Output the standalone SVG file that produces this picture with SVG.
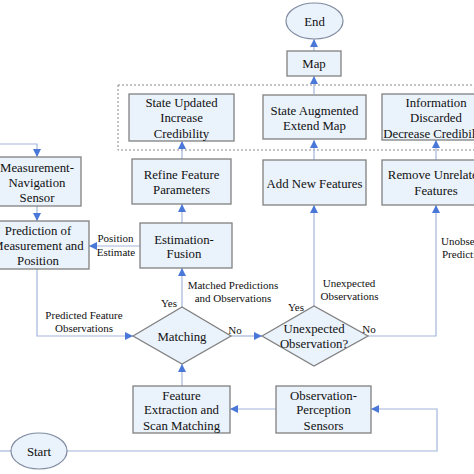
<svg xmlns="http://www.w3.org/2000/svg" width="474" height="474" viewBox="0 0 474 474">
<style>
.box{fill:#eaf2fb;stroke:#808080;stroke-width:1.3}
.ell{fill:#eaf2fb;stroke:#7f8ba0;stroke-width:1.2}
.t{font-family:"Liberation Serif","Times New Roman",serif;font-size:12.8px;fill:#111;text-anchor:middle}
.l{font-family:"Liberation Serif","Times New Roman",serif;font-size:11px;fill:#111;text-anchor:middle}
.c{fill:none;stroke:#a3b6da;stroke-width:1.2}
</style>
<defs>
<marker id="ah" markerUnits="userSpaceOnUse" markerWidth="8" markerHeight="8" viewBox="0 0 8 8" refX="8" refY="4" orient="auto">
<path d="M0,0 L8,4 L0,8 Z" fill="#4a78d8"/>
</marker>
</defs>
<rect width="474" height="474" fill="#fff"/>
<rect x="118" y="85" width="370" height="65" fill="none" stroke="#888" stroke-width="1" stroke-dasharray="2,2"/>
<g id="connectors">
<path class="c" d="M314,51 V39" marker-end="url(#ah)"/>
<path class="c" d="M314,94 V76" marker-end="url(#ah)"/>
<path class="c" d="M182,159 V141" marker-end="url(#ah)"/>
<path class="c" d="M314,160 V140" marker-end="url(#ah)"/>
<path class="c" d="M436,160 V140" marker-end="url(#ah)"/>
<path class="c" d="M182,223 V204" marker-end="url(#ah)"/>
<path class="c" d="M314,306 V205" marker-end="url(#ah)"/>
<path class="c" d="M368,336 H436 V205" marker-end="url(#ah)"/>
<path class="c" d="M140,246 H89" marker-end="url(#ah)"/>
<path class="c" d="M0,144 H37 V157" marker-end="url(#ah)"/>
<path class="c" d="M37,206 V221" marker-end="url(#ah)"/>
<path class="c" d="M37,269 V336 H133" marker-end="url(#ah)"/>
<path class="c" d="M182,307 V268" marker-end="url(#ah)"/>
<path class="c" d="M231,336 H262" marker-end="url(#ah)"/>
<path class="c" d="M182,386 V364" marker-end="url(#ah)"/>
<path class="c" d="M276,409 H230" marker-end="url(#ah)"/>
<path class="c" d="M67,451 H437 V409 H371" marker-end="url(#ah)"/>
<path class="c" d="M0,451 H11"/>
</g>
<g id="end"><ellipse class="ell" cx="314.5" cy="21" rx="28.5" ry="18"/><text class="t" x="314.5" y="25.5">End</text></g>
<g id="map"><rect class="box" x="287" y="51" width="54" height="25"/><text class="t" x="314" y="68">Map</text></g>
<g id="stateUpdated"><rect class="box" x="129" y="94" width="105" height="47"/>
<text class="t" x="181.5" y="106.5">State Updated</text><text class="t" x="181.5" y="122">Increase</text><text class="t" x="181.5" y="137.5">Credibility</text></g>
<g id="stateAugmented"><rect class="box" x="263" y="95" width="103" height="44"/>
<text class="t" x="314.5" y="114.5">State Augmented</text><text class="t" x="314.5" y="129.5">Extend Map</text></g>
<g id="infoDiscarded"><rect class="box" x="382" y="94" width="108" height="46"/>
<text class="t" x="436" y="107">Information</text><text class="t" x="436" y="122">Discarded</text><text class="t" x="436" y="137.5">Decrease Credibility</text></g>
<g id="refine"><rect class="box" x="132" y="159" width="99" height="45"/>
<text class="t" x="181.5" y="178.5">Refine Feature</text><text class="t" x="181.5" y="193.5">Parameters</text></g>
<g id="addNew"><rect class="box" x="263" y="160" width="103" height="45"/>
<text class="t" x="314.5" y="187.5">Add New Features</text></g>
<g id="removeUnrelated"><rect class="box" x="382" y="160" width="108" height="45"/>
<text class="t" x="436" y="178.5">Remove Unrelated</text><text class="t" x="436" y="195">Features</text></g>
<g id="measurement"><rect class="box" x="-7" y="157" width="88" height="49"/>
<text class="t" x="37" y="171.5">Measurement-</text><text class="t" x="37" y="186.5">Navigation</text><text class="t" x="37" y="201.5">Sensor</text></g>
<g id="prediction"><rect class="box" x="-14" y="221" width="103" height="48"/>
<text class="t" x="38" y="234.5">Prediction of</text><text class="t" x="38" y="249.5">Measurement and</text><text class="t" x="38" y="264.5">Position</text></g>
<g id="estimation"><rect class="box" x="140" y="223" width="92" height="45"/>
<text class="t" x="184" y="243.5">Estimation-</text><text class="t" x="184" y="258">Fusion</text></g>
<g id="matching"><path class="box" d="M133,336 L182,307 L231,336 L182,364 Z"/>
<text class="t" x="182" y="340.5">Matching</text></g>
<g id="unexpected"><path class="box" d="M262,336 L314,306 L368,336 L314,366 Z"/>
<text class="t" x="314" y="332.5">Unexpected</text><text class="t" x="314" y="347.5">Observation?</text></g>
<g id="featureExtraction"><rect class="box" x="133" y="386" width="97" height="47"/>
<text class="t" x="181.5" y="399.5">Feature</text><text class="t" x="181.5" y="414">Extraction and</text><text class="t" x="181.5" y="429.5">Scan Matching</text></g>
<g id="observationPerception"><rect class="box" x="276" y="386" width="95" height="47"/>
<text class="t" x="323.5" y="399.5">Observation-</text><text class="t" x="323.5" y="414">Perception</text><text class="t" x="323.5" y="429.5">Sensors</text></g>
<g id="start"><ellipse class="ell" cx="39" cy="451" rx="28" ry="18"/><text class="t" x="39" y="456">Start</text></g>
<g id="labels">
<text class="l" x="115.5" y="242">Position</text><text class="l" x="116" y="256">Estimate</text>
<text class="l" x="84" y="319">Predicted Feature</text><text class="l" x="84" y="332">Observations</text>
<text class="l" x="169" y="306.5">Yes</text>
<text class="l" x="233" y="289">Matched Predictions</text><text class="l" x="233" y="302">and Observations</text>
<text class="l" x="235" y="334">No</text>
<text class="l" x="296" y="311">Yes</text>
<text class="l" x="349" y="287">Unexpected</text><text class="l" x="349.5" y="300">Observations</text>
<text class="l" x="369" y="333">No</text>
<text class="l" x="441" y="245" style="text-anchor:start">Unobserved</text><text class="l" x="442" y="258" style="text-anchor:start">Predictions</text>
</g>
</svg>
